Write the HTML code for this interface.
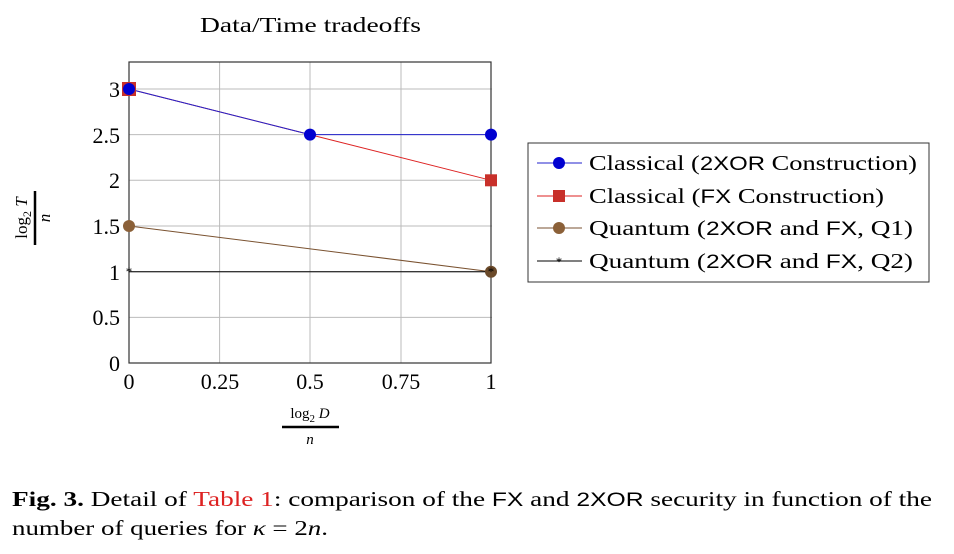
<!DOCTYPE html>
<html><head><style>
body{margin:0;width:954px;height:554px;background:#fff;overflow:hidden;position:relative;font-family:"Liberation Serif",serif;}
</style></head><body>
<svg width="954" height="554" style="position:absolute;left:0;top:0" font-family="Liberation Serif, serif">
<text x="200" y="32" font-size="21" textLength="221" lengthAdjust="spacingAndGlyphs">Data/Time tradeoffs</text>
<g stroke="#bbb" stroke-width="1">
<line x1="219.6" y1="62" x2="219.6" y2="363"/><line x1="310" y1="62" x2="310" y2="363"/><line x1="401" y1="62" x2="401" y2="363"/>
<line x1="129" y1="317.4" x2="492" y2="317.4"/><line x1="129" y1="271.7" x2="492" y2="271.7"/><line x1="129" y1="226" x2="492" y2="226"/><line x1="129" y1="180.3" x2="492" y2="180.3"/><line x1="129" y1="134.6" x2="492" y2="134.6"/><line x1="129" y1="89" x2="492" y2="89"/>
</g>
<rect x="129" y="62" width="362" height="301" fill="none" stroke="#333" stroke-width="1.2"/>
<g font-size="22" text-anchor="end">
<text x="120" y="371">0</text><text x="120" y="325">0.5</text><text x="120" y="280">1</text><text x="120" y="234">1.5</text><text x="120" y="188">2</text><text x="120" y="143">2.5</text><text x="120" y="97">3</text>
</g>
<g font-size="22" text-anchor="middle">
<text x="129" y="389">0</text><text x="220" y="389">0.25</text><text x="310" y="389">0.5</text><text x="401" y="389">0.75</text><text x="491" y="389">1</text>
</g>
<polyline points="129,226 491,271.7" fill="none" stroke="#7a5230" stroke-width="1"/>
<line x1="129" y1="271.7" x2="491" y2="271.7" stroke="#000" stroke-width="1"/>
<polyline points="129,89 310,134.6 491,180.3" fill="none" stroke="#d22" stroke-width="1"/>
<polyline points="129,89 310,134.6 491,134.6" fill="none" stroke="#22c" stroke-width="1"/>
<rect x="122" y="82" width="14" height="14" fill="#c8302a"/>
<rect x="485" y="174.3" width="12" height="12" fill="#c8302a"/>
<circle cx="129" cy="89" r="6" fill="#0000d0"/><circle cx="310" cy="134.6" r="6" fill="#0000d0"/><circle cx="491" cy="134.6" r="6" fill="#0000d0"/>
<circle cx="129" cy="226" r="6" fill="#8b6038"/><circle cx="491" cy="271.7" r="6" fill="#6b4a2a"/>
<text x="129" y="276" font-size="13" text-anchor="middle">*</text><text x="491" y="276" font-size="13" text-anchor="middle">*</text>
<g transform="translate(36,218) rotate(-90)">
<text x="0" y="-9" text-anchor="middle" font-size="17">log<tspan font-size="12" dy="4">2</tspan><tspan dy="-4" font-style="italic"> T</tspan></text>
<line x1="-27" y1="-1" x2="27" y2="-1" stroke="#000" stroke-width="2.5"/>
<text x="0" y="14" text-anchor="middle" font-style="italic" font-size="17">n</text>
</g>
<text x="310" y="418" text-anchor="middle" font-size="15">log<tspan font-size="11" dy="4">2</tspan><tspan dy="-4" font-style="italic"> D</tspan></text>
<line x1="282" y1="427" x2="339" y2="427" stroke="#000" stroke-width="2.5"/>
<text x="310" y="444" text-anchor="middle" font-style="italic" font-size="15">n</text>
<rect x="528" y="143" width="401" height="139" fill="#fff" stroke="#333" stroke-width="1"/>
<line x1="537" y1="163" x2="582" y2="163" stroke="#22c"/><circle cx="559" cy="163" r="6" fill="#0000d0"/>
<line x1="537" y1="196" x2="582" y2="196" stroke="#d22"/><rect x="553" y="190" width="12" height="12" fill="#c8302a"/>
<line x1="537" y1="228" x2="582" y2="228" stroke="#7a5230"/><circle cx="559" cy="228" r="6" fill="#8b6038"/>
<line x1="537" y1="261" x2="582" y2="261" stroke="#000"/><text x="559" y="266" font-size="13" text-anchor="middle">*</text>
<g font-size="21">
<text x="589" y="170" textLength="328" lengthAdjust="spacingAndGlyphs">Classical (<tspan font-family="Liberation Sans, sans-serif" font-size="19">2XOR</tspan> Construction)</text>
<text x="589" y="203" textLength="295" lengthAdjust="spacingAndGlyphs">Classical (<tspan font-family="Liberation Sans, sans-serif" font-size="19">FX</tspan> Construction)</text>
<text x="589" y="235" textLength="324" lengthAdjust="spacingAndGlyphs">Quantum (<tspan font-family="Liberation Sans, sans-serif" font-size="19">2XOR</tspan> and <tspan font-family="Liberation Sans, sans-serif" font-size="19">FX</tspan>, Q1)</text>
<text x="589" y="268" textLength="324" lengthAdjust="spacingAndGlyphs">Quantum (<tspan font-family="Liberation Sans, sans-serif" font-size="19">2XOR</tspan> and <tspan font-family="Liberation Sans, sans-serif" font-size="19">FX</tspan>, Q2)</text>
</g>
<g font-size="21">
<text x="12" y="506" textLength="920" lengthAdjust="spacingAndGlyphs"><tspan font-weight="bold">Fig. 3.</tspan> Detail of <tspan fill="#d22">Table 1</tspan>: comparison of the <tspan font-family="Liberation Sans, sans-serif" font-size="19">FX</tspan> and <tspan font-family="Liberation Sans, sans-serif" font-size="19">2XOR</tspan> security in function of the</text>
<text x="12" y="535" textLength="316" lengthAdjust="spacingAndGlyphs">number of queries for <tspan font-style="italic">κ</tspan> = 2<tspan font-style="italic">n</tspan>.</text>
</g>
</svg>
</body></html>
